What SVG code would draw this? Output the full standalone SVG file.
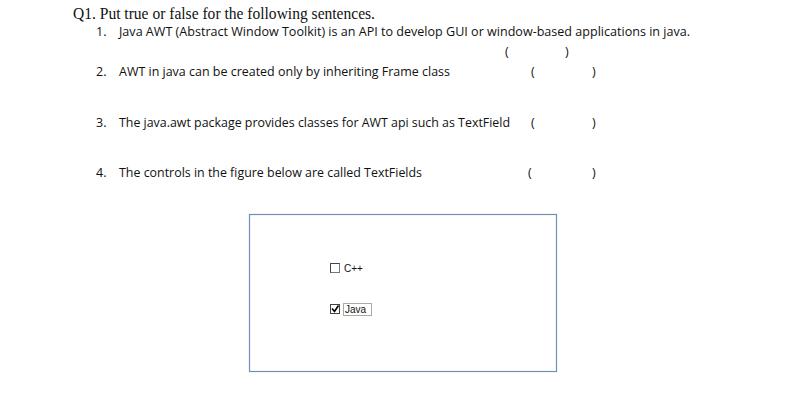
<svg xmlns="http://www.w3.org/2000/svg" width="792" height="405" viewBox="0 0 792 405">
<style>
.t{font-family:"Open Sans","Liberation Sans",sans-serif;font-size:12.5px;fill:#111}
.h{font-family:"Liberation Serif",serif;font-size:16px;fill:#111}
.s{font-family:"Liberation Sans",Arial,sans-serif;font-size:10px;fill:#111}
</style>
<rect width="792" height="405" fill="#fff"/>
<text class="h" x="73" y="19" textLength="302" lengthAdjust="spacingAndGlyphs">Q1. Put true or false for the following sentences.</text>
<text class="t" x="96" y="36">1.</text>
<text class="t" x="119" y="36" textLength="571" lengthAdjust="spacingAndGlyphs">Java AWT (Abstract Window Toolkit) is an API to develop GUI or window-based applications in java.</text>
<text class="t" x="505" y="56">(</text><text class="t" x="565" y="56">)</text>
<text class="t" x="96" y="76">2.</text>
<text class="t" x="119" y="76" textLength="331" lengthAdjust="spacingAndGlyphs">AWT in java can be created only by inheriting Frame class</text>
<text class="t" x="531" y="76">(</text><text class="t" x="592" y="76">)</text>
<text class="t" x="96" y="127">3.</text>
<text class="t" x="119" y="127" textLength="391" lengthAdjust="spacingAndGlyphs">The java.awt package provides classes for AWT api such as TextField</text>
<text class="t" x="531" y="127">(</text><text class="t" x="592" y="127">)</text>
<text class="t" x="96" y="177">4.</text>
<text class="t" x="119" y="177" textLength="303" lengthAdjust="spacingAndGlyphs">The controls in the figure below are called TextFields</text>
<text class="t" x="528" y="177">(</text><text class="t" x="592" y="177">)</text>
<g id="figure">
<rect x="249.5" y="214.5" width="307" height="157" fill="#fff" stroke="#6f8fb8" stroke-width="1.2"/>
<rect x="330.5" y="263.5" width="9" height="9" fill="#fff" stroke="#777"/>
<path d="M330.5 272.5V263.5H339.5" fill="none" stroke="#444"/>
<text class="s" x="344" y="272">C++</text>
<rect x="330.5" y="304.5" width="9" height="9" fill="#fff" stroke="#444"/>
<path d="M332 308.5l2.5 3 4-6" fill="none" stroke="#000" stroke-width="1.6"/>
<rect x="343.5" y="303.5" width="28" height="12" fill="none" stroke="#555" stroke-dasharray="1 1"/>
<text class="s" x="345" y="313">Java</text>
</g>
</svg>
